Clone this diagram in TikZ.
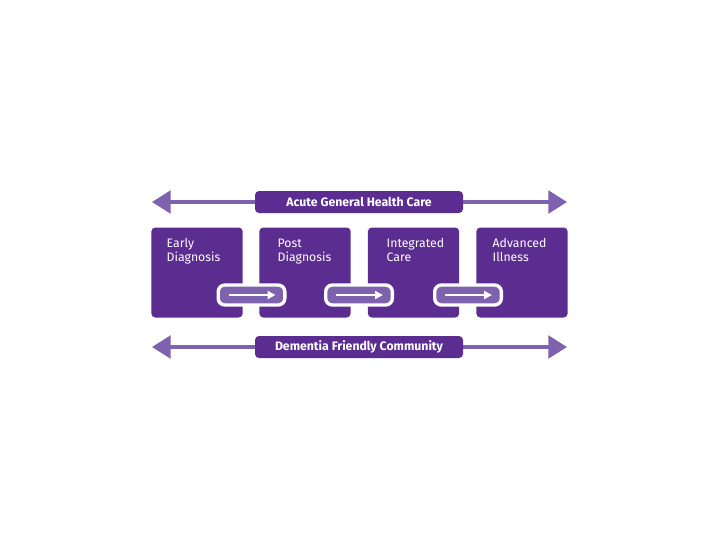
\documentclass[tikz,border=0pt]{standalone}
\usepackage{fontspec}
\setmainfont{Fira Sans}
\usetikzlibrary{arrows.meta}
\definecolor{dp}{HTML}{5C2D91}
\definecolor{lp}{HTML}{7E62AE}
\begin{document}
\begin{tikzpicture}[x=0.75pt,y=-0.75pt,
 box/.style={fill=dp,rounded corners=3pt,minimum width=68.5pt,minimum height=67.5pt,inner sep=0pt},
 lbl/.style={text=white,font=\fontsize{9.2pt}{10.5pt}\selectfont,align=left,anchor=north west},
 ban/.style={fill=dp,rounded corners=3pt,text=white,font=\bfseries\fontsize{9.2pt}{10pt}\selectfont,minimum width=156pt,minimum height=16.5pt,inner sep=0pt},
 pill/.style={fill=lp,draw=white,line width=2.5pt,rounded corners=5pt,minimum width=50pt,minimum height=15pt,inner sep=0pt},
 wide/.style={draw=lp,line width=2.5pt,-{Triangle[length=14pt,width=17pt]}}]
\useasboundingbox[fill=white] (0,0) rectangle (720,540);
\coordinate (tl) at (152,202); \coordinate (tr) at (567,202);
\coordinate (bl) at (152,347); \coordinate (br) at (567,347);
\draw[wide] (359,202) -- (tl); \draw[wide] (359,202) -- (tr);
\draw[wide] (359,347) -- (bl); \draw[wide] (359,347) -- (br);
\node[ban] (top) at (359,202) {Acute General Health Care};
\node[ban] (bot) at (359,347) {Dementia Friendly Community};
\node[box] (b1) at (197,272.5) {};
\node[box] (b2) at (305,272.5) {};
\node[box] (b3) at (413.5,272.5) {};
\node[box] (b4) at (522,272.5) {};
\node[lbl] (t1) at (162,234) {Early\\Diagnosis};
\node[lbl] (t2) at (273,234) {Post\\Diagnosis};
\node[lbl] (t3) at (382,234) {Integrated\\Care};
\node[lbl] (t4) at (488,234) {Advanced\\Illness};
\foreach \i/\x in {1/251.5,2/359,3/468}{
 \node[pill] (p\i) at (\x,295) {};
 \draw[white,line width=1.5pt,-{Triangle[length=6pt,width=6pt]}] ([xshift=-17pt]p\i.center) -- ([xshift=18pt]p\i.center);
}
\end{tikzpicture}
\end{document}
